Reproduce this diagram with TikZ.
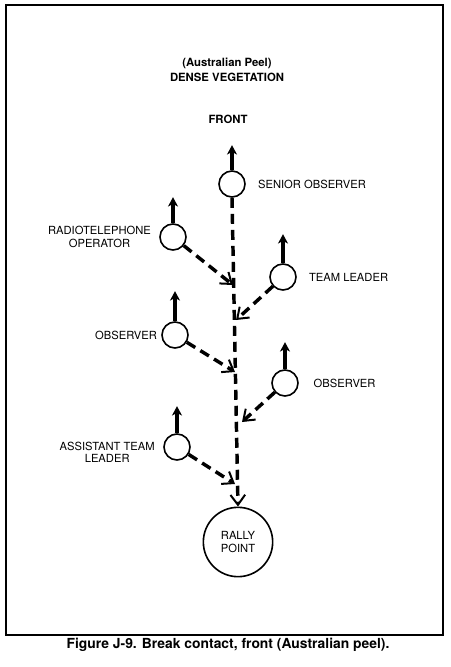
\documentclass[tikz,border=0pt]{standalone}
\usepackage{fontspec}
\setmainfont{TeX Gyre Heros}
\usetikzlibrary{arrows.meta,positioning}

\tikzset{
  member/.style={circle, draw, line width=1.2pt, minimum size=19.5pt, inner sep=0pt},
  rally/.style={circle, draw, line width=1.2pt, minimum size=52pt, inner sep=0pt,
    align=center, font=\fontsize{8.4}{9.8}\selectfont},
  tag/.style={inner sep=0pt, align=center, font=\fontsize{8.4}{9.2}\selectfont},
  head/.style={inner sep=0pt, font=\bfseries\fontsize{8.5}{10}\selectfont},
  facing/.style={line width=2.6pt, -{Stealth[length=7pt,width=7.5pt,inset=2pt]}},
  peel/.style={line width=2.6pt, dash pattern=on 7.5pt off 4.5pt,
    -{Straight Barb[length=7.5pt,width=11pt,line width=1.5pt]}}
}

\begin{document}
\begin{tikzpicture}[x=0.75pt, y=-0.75pt]
  \useasboundingbox (0,0) rectangle (450,667);
  \draw[line width=1.1pt] (6,5) rectangle (443,635);

  % headings
  \node[head] (peel) at (227,63) {(Australian Peel)};
  \node[head] (veg) at (227,77) {DENSE VEGETATION};
  \node[head] (front) at (228,119) {FRONT};

  % team members
  \node[member] (so) at (232,184) {};
  \node[member] (rto) at (173,237) {};
  \node[member] (tl) at (283,277) {};
  \node[member] (obl) at (175,335) {};
  \node[member] (obr) at (285,383) {};
  \node[member] (atl) at (177,447) {};
  \node[rally] (rp) at (238,542) {RALLY\\POINT};

  \node[tag, right=9pt of so] (so-l) {SENIOR OBSERVER};
  \node[tag, left=6pt of rto] (rto-l) {RADIOTELEPHONE\\OPERATOR};
  \node[tag, right=9pt of tl] (tl-l) {TEAM LEADER};
  \node[tag, left=3pt of obl] (obl-l) {OBSERVER};
  \node[tag, right=11pt of obr] (obr-l) {OBSERVER};
  \node[tag, anchor=east] (atl-l) at (155,452) {ASSISTANT TEAM\\LEADER};

  % facing the front
  \foreach \n/\len in {so/25, rto/26, tl/29, obl/30, obr/27, atl/27}{
    \path (\n.north) ++(0,-\len) coordinate (\n-f);
    \draw[facing] (\n.north) -- (\n-f);
  }

  % peel back to the rally point
  \coordinate (j1) at (233,285);
  \coordinate (j2) at (236,320);
  \coordinate (j3) at (235,372);
  \coordinate (j4) at (242,422);
  \coordinate (j5) at (235,484);
  \draw[peel] (so.south) -- (rp.north);
  \draw[peel] (rto) -- (j1);
  \draw[peel] (tl) -- (j2);
  \draw[peel] (obl) -- (j3);
  \draw[peel] (obr) -- (j4);
  \draw[peel] (atl) -- (j5);

  \node[font=\bfseries\fontsize{10.4}{12}\selectfont] (cap) at (228,645)
    {Figure J-9. Break contact, front (Australian peel).};
\end{tikzpicture}
\end{document}
